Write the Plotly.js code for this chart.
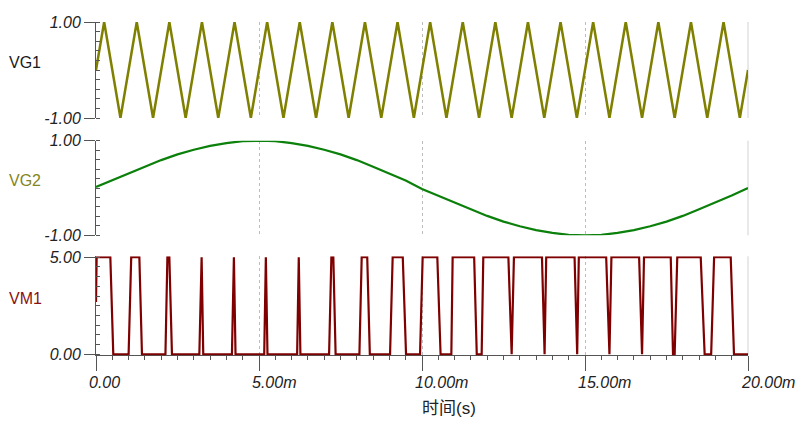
<!DOCTYPE html>
<html><head><meta charset="utf-8">
<script src="https://cdn.plot.ly/plotly-3.0.1.min.js"></script>
<style>html,body{margin:0;padding:0;background:#fff}#chart{width:800px;height:436px}</style>
</head><body><div id="chart"></div>
<script>
// time in ms
const vg1Time = [0,0.25,0.75,1.25,1.75,2.25,2.75,3.25,3.75,4.25,4.75,5.25,5.75,6.25,6.75,7.25,7.75,8.25,8.75,9.25,9.75,
  10.25,10.75,11.25,11.75,12.25,12.75,13.25,13.75,14.25,14.75,15.25,15.75,16.25,16.75,17.25,17.75,18.25,18.75,19.25,19.75,20];
const vg1Vals = [0,1,-1,1,-1,1,-1,1,-1,1,-1,1,-1,1,-1,1,-1,1,-1,1,-1,
  1,-1,1,-1,1,-1,1,-1,1,-1,1,-1,1,-1,1,-1,1,-1,1,-1,0];

const vg2Time = [0,0.5,1,1.5,2,2.5,3,3.5,4,4.5,5,5.5,6,6.5,7,7.5,8,8.5,9,9.5,10,
  10.5,11,11.5,12,12.5,13,13.5,14,14.5,15,15.5,16,16.5,17,17.5,18,18.5,19,19.5,20];
const vg2Vals = [0.02,0.16,0.31,0.45,0.59,0.71,0.81,0.89,0.95,0.99,1.00,0.99,0.95,0.89,0.81,0.71,0.59,0.45,0.31,0.16,-0.02,
  -0.16,-0.31,-0.45,-0.59,-0.71,-0.81,-0.89,-0.95,-0.99,-1.00,-0.99,-0.95,-0.89,-0.81,-0.71,-0.59,-0.45,-0.31,-0.16,0];

const vm1Time = [
  0,0.02,0.44,0.53,
  1.00,1.08,1.33,1.41,
  2.13,2.19,2.25,2.33,
  3.17,3.24,3.29,
  4.17,4.23,4.28,
  5.16,5.21,5.26,
  6.17,6.22,6.27,
  7.15,7.22,7.28,7.35,
  8.08,8.15,8.32,8.40,
  9.02,9.10,9.41,9.51,
  9.94,10.02,10.47,10.57,
  10.90,10.94,11.60,11.68,
  11.83,11.88,12.65,12.75,
  12.82,13.68,13.76,
  13.81,14.68,14.76,
  14.81,15.65,15.75,
  15.81,16.66,16.75,
  16.81,17.63,17.70,
  17.75,17.83,18.55,18.67,
  18.87,18.96,19.47,19.57,
  20];
const vm1Vals = [
  2.7,5,5,0,
  0,5,5,0,
  0,5,5,0,
  0,5,0,
  0,5,0,
  0,5,0,
  0,5,0,
  0,5,5,0,
  0,5,5,0,
  0,5,5,0,
  0,5,5,0,
  0,5,5,0,
  0,5,5,0,
  5,5,0,
  5,5,0,
  5,5,0,
  5,5,0,
  5,5,0,
  0,5,5,0,
  0,5,5,0,
  0];

const vgTickVals = [-1, 1];
const vgTickText = ['-1.00', '1.00'];
const vmTickVals = [0, 5];
const vmTickText = ['0.00', '5.00'];
const xTickVals = [0, 5, 10, 15, 20];
const xTickText = ['0.00', '5.00m', '10.00m', '15.00m', '20.00m'];
const xMidTickVals = [2.5, 7.5, 12.5, 17.5];
const xGridVals = [5, 10, 15];
const seriesNames = ['VG1', 'VG2', 'VM1'];

const FONT = 'Liberation Sans, Arial, sans-serif';
const AX = '#555555';
const GRID = '#d2d2d2';
const DOT = '#bdbdbd';

const traces = [
  {x: vg1Time, y: vg1Vals, mode: 'lines', line: {color: '#7f7f00', width: 2.5}, xaxis: 'x', yaxis: 'y', hoverinfo: 'skip'},
  {x: vg2Time, y: vg2Vals, mode: 'lines', line: {color: '#0b800b', width: 2.2}, xaxis: 'x2', yaxis: 'y2', hoverinfo: 'skip'},
  {x: vm1Time, y: vm1Vals, mode: 'lines', line: {color: '#7f0000', width: 2.2}, xaxis: 'x3', yaxis: 'y3', hoverinfo: 'skip'}
];

const tickFont = {family: FONT, size: 16, color: '#222', style: 'italic'};

function topX(anchor) {
  return {anchor: anchor, domain: [0, 1], range: [0, 20], tickmode: 'array', tickvals: xGridVals,
    showticklabels: false, ticks: '', showgrid: true, gridcolor: DOT, griddash: 'dot', gridwidth: 1,
    zeroline: false, showline: false, fixedrange: true};
}
function vy(domain, range, tv, tt, minorD) {
  return {domain: domain, range: range, tickmode: 'array', tickvals: tv, ticktext: tt,
    ticks: 'outside', ticklen: 11, tickcolor: AX, tickwidth: 1, tickfont: tickFont,
    showline: true, linecolor: AX, linewidth: 1, showgrid: true, gridcolor: GRID, gridwidth: 1,
    zeroline: false, fixedrange: true, anchor: 'free', position: 0,
    minor: {tickmode: 'linear', tick0: tv[0], dtick: minorD, ticks: 'inside', ticklen: 4, tickcolor: AX, showgrid: false}};
}

const ys = [62, 180, 298];
const labelColors = ['#1a1a1a', '#858522', '#8b1010'];
const annotations = [];
for (let i = 0; i < seriesNames.length; i++) {
  annotations.push({text: seriesNames[i], xref: 'paper', yref: 'paper', x: (7 - 96) / 652, y: 1 - ys[i] / 436,
    xanchor: 'left', yanchor: 'middle', showarrow: false, font: {family: FONT, size: 16, color: labelColors[i]}});
}
for (let i = 0; i < xTickVals.length; i++) {
  annotations.push({text: xTickText[i], xref: 'x3', yref: 'paper', x: xTickVals[i], y: 1 - 382 / 436,
    xanchor: 'left', yanchor: 'middle', xshift: -9, showarrow: false, font: tickFont});
}
annotations.push({text: '时间(s)', xref: 'paper', yref: 'paper', x: (449 - 96) / 652, y: 1 - 408 / 436,
  xanchor: 'center', yanchor: 'middle', showarrow: false,
  font: {family: 'Liberation Sans, Noto Sans CJK SC, sans-serif', size: 17, color: '#222'}});

const shapes = [['x domain', 'y domain'], ['x2 domain', 'y2 domain'], ['x3 domain', 'y3 domain']].map(r => ({
  type: 'line', xref: r[0], yref: r[1], x0: 1, x1: 1, y0: 0, y1: 1, layer: 'below',
  line: {color: GRID, width: 1}}));

const layout = {
  width: 800, height: 436, margin: {l: 96, r: 52, t: 0, b: 0},
  paper_bgcolor: '#fff', plot_bgcolor: '#fff', showlegend: false,
  xaxis: topX('y'),
  xaxis2: topX('y2'),
  xaxis3: {anchor: 'y3', domain: [0, 1], range: [0, 20], tickmode: 'array', tickvals: xTickVals,
    showticklabels: false, ticks: 'outside', ticklen: 15, tickcolor: AX, tickwidth: 1,
    showline: true, linecolor: AX, linewidth: 1, layer: 'below traces',
    showgrid: true, gridcolor: DOT, griddash: 'dot', zeroline: false, fixedrange: true,
    minor: {tickmode: 'linear', tick0: 0, dtick: 0.5, ticks: 'outside', ticklen: 4, tickcolor: AX, showgrid: false}},
  xaxis4: {overlaying: 'x3', anchor: 'y3', side: 'bottom', range: [0, 20], tickmode: 'array', tickvals: xMidTickVals,
    showticklabels: false, ticks: 'outside', ticklen: 8, tickcolor: AX, tickwidth: 1,
    showline: false, showgrid: false, zeroline: false, fixedrange: true},
  yaxis: vy([1 - 118 / 436, 1 - 22 / 436], [-1, 1], vgTickVals, vgTickText, 0.2),
  yaxis2: vy([1 - 235.3 / 436, 1 - 140.7 / 436], [-1, 1], vgTickVals, vgTickText, 0.2),
  yaxis3: vy([1 - 355.3 / 436, 1 - 256.3 / 436], [-0.05, 5.05], vmTickVals, vmTickText, 0.5),
  annotations: annotations,
  shapes: shapes
};
layout.yaxis.anchor = 'x'; layout.yaxis2.anchor = 'x2'; layout.yaxis3.anchor = 'x3';
delete layout.yaxis.position; delete layout.yaxis2.position; delete layout.yaxis3.position;

Plotly.newPlot('chart', traces, layout, {staticPlot: true, displayModeBar: false});
</script></body></html>
